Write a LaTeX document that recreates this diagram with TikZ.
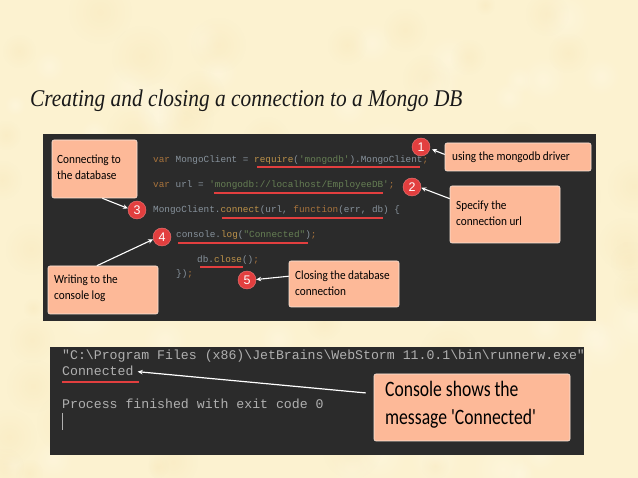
\documentclass[tikz,border=0pt]{standalone}
\usepackage{fontspec}
\setmainfont{Liberation Serif}
\setmonofont{Liberation Mono}
\newfontfamily\handfont{Carlito}
\usetikzlibrary{fadings,arrows.meta}
\definecolor{paper}{HTML}{FCF2D0}
\definecolor{blotlight}{HTML}{FFF9E6}
\definecolor{blotdark}{HTML}{F8E8BC}
\definecolor{panel}{HTML}{2B2B2B}
\definecolor{boxfill}{HTML}{FDB998}
\definecolor{boxedge}{HTML}{F8E6DA}
\definecolor{redmark}{HTML}{E23F3F}
\definecolor{kw}{HTML}{A8733C}
\definecolor{ident}{HTML}{87929C}
\definecolor{fn}{HTML}{BC9149}
\definecolor{strg}{HTML}{667F54}
\definecolor{cons}{HTML}{B0B0B0}
\tikzfading[name=blot, inner color=transparent!55, outer color=transparent!100]
\newcommand{\kw}[1]{\textcolor{kw}{#1}}
\newcommand{\fnc}[1]{\textcolor{fn}{#1}}
\newcommand{\strg}[1]{\textcolor{strg}{#1}}
\tikzset{
  panelbox/.style={fill=panel,draw=none},
  callout/.style={fill=boxfill,draw=boxedge,line width=0.6pt,rounded corners=2pt,inner sep=0pt},
  handtext/.style={anchor=west,align=left,inner sep=0pt,text=black,xscale=0.9,font=\handfont\fontsize{12.5}{16}\selectfont},
  bigtext/.style={anchor=west,align=left,inner sep=0pt,text=black,xscale=0.8,font=\handfont\fontsize{22}{28}\selectfont},
  codeline/.style={anchor=base west,inner sep=0pt,text=ident,font=\ttfamily\fontsize{9.35}{11}\selectfont},
  consline/.style={anchor=base west,inner sep=0pt,text=cons,font=\ttfamily\fontsize{13.2}{15}\selectfont},
  marker/.style={circle,fill=redmark,draw=redmark!70!white,line width=0.4pt,text=white,minimum size=18pt,inner sep=0pt,font=\fontspec{Liberation Sans}\fontsize{12.5}{12.5}\selectfont},
  pointer/.style={draw=white,line width=1.1pt,-{Stealth[length=5pt,width=4.5pt]}},
  underl/.style={draw=redmark,line width=1.4pt},
}
\begin{document}
\begin{tikzpicture}[x=1pt,y=-1pt]
\useasboundingbox (0,0) rectangle (638,478);
\fill[paper] (0,0) rectangle (638,478);
\pgfmathsetseed{4242}
\begin{scope}
\clip (0,0) rectangle (638,478);
\foreach \i in {1,...,120}{
  \pgfmathsetmacro{\bx}{random(0,638)}
  \pgfmathsetmacro{\by}{random(0,478)}
  \pgfmathsetmacro{\br}{random(10,32)}
  \ifnum\i<61
    \fill[blotlight,path fading=blot] (\bx,\by) circle[radius=\br];
  \else
    \fill[blotdark,path fading=blot] (\bx,\by) circle[radius=\br];
  \fi
}
\end{scope}

\node[anchor=base west,inner sep=0pt,text=black!90,xscale=0.89,font=\itshape\fontsize{24}{28}\selectfont] (title) at (30,107) {Creating and closing a connection to a Mongo DB};

% code panel
\fill[panelbox] (43,134) rectangle (596,321);
\node[codeline] (l1) at (153,163) {\kw{var} MongoClient = \fnc{require}(\strg{'mongodb'}).MongoClient\kw{;}};
\node[codeline] (l2) at (153,188) {\kw{var} url = \strg{'mongodb://localhost/EmployeeDB'}\kw{;}};
\node[codeline] (l3) at (153,213) {MongoClient.\fnc{connect}(url, \kw{function}(err, db) \{};
\node[codeline] (l4) at (176,238) {console.\fnc{log}(\strg{"Connected"})\kw{;}};
\node[codeline] (l5) at (197,263) {db.\fnc{close}()\kw{;}};
\node[codeline] (l6) at (176,277) {\})\kw{;}};

\draw[underl] (257,167) -- (420,167);
\draw[underl] (214,193) -- (383,193);
\draw[underl] (222,218) -- (383,218);
\draw[underl] (178,243) -- (308,243);
\draw[underl] (200,267) -- (243,267);

% callouts
\node[callout,minimum width=85pt,minimum height=58pt] (boxa) at (94.5,169) {};
\node[callout,minimum width=110pt,minimum height=48pt] (boxb) at (103,290) {};
\node[callout,minimum width=110pt,minimum height=46pt] (boxc) at (344,284) {};
\node[callout,minimum width=146pt,minimum height=28pt] (boxd) at (518,157) {};
\node[callout,minimum width=110pt,minimum height=57pt] (boxe) at (505,214.5) {};

\node[handtext] (ta) at (57,167) {Connecting to\\the database};
\node[handtext] (tb) at (54,288) {Writing to the\\console log};
\node[handtext] (tc) at (295,283) {Closing the database\\connection};
\node[handtext] (td) at (452,157) {using the mongodb driver};
\node[handtext] (te) at (456,213) {Specify the\\connection url};

% markers
\node[marker] (c1) at (421,147) {1};
\node[marker] (c2) at (412,187) {2};
\node[marker] (c3) at (137,210) {3};
\node[marker] (c4) at (162,237) {4};
\node[marker] (c5) at (247,280) {5};

\draw[pointer] (boxa.-75) -- (c3.170);
\draw[pointer] (boxb.104) -- (c4.195);
\draw[pointer] (boxc.172) -- (c5.3);
\draw[pointer,shorten >=2pt] (boxd.178.4) -- (c1.-10);
\draw[pointer] (boxe.164) -- (c2.-5);

% console panel
\fill[panelbox] (50,347) rectangle (584,455);
\node[consline] (k1) at (62,360) {"C:\textbackslash Program Files (x86)\textbackslash JetBrains\textbackslash WebStorm 11.0.1\textbackslash bin\textbackslash runnerw.exe"};
\node[consline] (k2) at (62,376) {Connected};
\node[consline] (k3) at (62,409) {Process finished with exit code 0};
\draw[cons,line width=1pt] (62.5,413) -- (62.5,430);
\draw[underl,line width=1.6pt] (62,382) -- (139,382);

\node[callout,minimum width=196pt,minimum height=67pt] (boxf) at (472,407.5) {};
\node[bigtext] (tf) at (385,405) {Console shows the\\message 'Connected'};
\draw[pointer,line width=1.2pt,shorten <=8pt,shorten >=4pt] (boxf.172) -- (k2.east);
\end{tikzpicture}
\end{document}
